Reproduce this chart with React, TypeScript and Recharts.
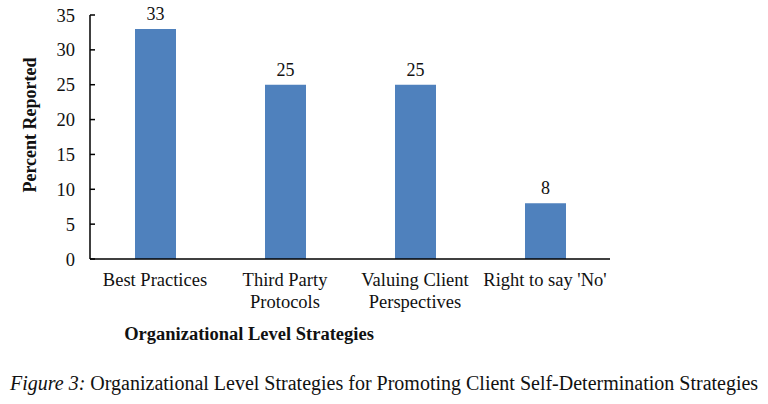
import React from 'react';
import { BarChart, Bar, XAxis, YAxis, LabelList, Label } from 'recharts';

const categories = ['Best Practices', 'Third Party Protocols', 'Valuing Client Perspectives', "Right to say 'No'"];
const percents = [33, 25, 25, 8];
const tickLines = [['Best Practices'], ['Third Party', 'Protocols'], ['Valuing Client', 'Perspectives'], ["Right to say 'No'"]];
const yTicks = [0, 5, 10, 15, 20, 25, 30, 35];

const data = categories.map((name, i) => ({ name, value: percents[i] }));

const FONT = '"Liberation Serif", "Times New Roman", serif';

const CategoryTick = (props: any) => {
  const { x, y, index } = props;
  const lines = tickLines[index] || [];
  return (
    <text x={x} y={y} textAnchor="middle" fontFamily={FONT} fontSize={18.5} fill="#111">
      {lines.map((l, i) => (
        <tspan key={i} x={x} dy={i === 0 ? 27 : 22}>{l}</tspan>
      ))}
    </text>
  );
};

const App: React.FC = () => {
  return (
    <div style={{ position: 'absolute', left: 0, top: 0, width: 768, height: 404, background: '#fff', fontFamily: FONT }}>
      <BarChart
        width={768}
        height={345}
        data={data}
        margin={{ top: 15, right: 158, left: 30, bottom: 0 }}
      >
        <XAxis
          dataKey="name"
          height={86}
          interval={0}
          tickLine={false}
          tickSize={0}
          tickMargin={0}
          axisLine={{ stroke: '#000', strokeWidth: 1.5 }}
          tick={<CategoryTick />}
        >
          <Label
            value="Organizational Level Strategies"
            position="insideBottom"
            offset={5}
            dx={-101}
            style={{ fontFamily: FONT, fontSize: 18.5, fontWeight: 'bold', fill: '#111' }}
          />
        </XAxis>
        <YAxis
          width={60}
          domain={[0, 35]}
          ticks={yTicks}
          interval={0}
          tickSize={-5}
          tickMargin={20}
          axisLine={{ stroke: '#000', strokeWidth: 1.5 }}
          tickLine={{ stroke: '#000', strokeWidth: 1.5 }}
          tick={{ fontFamily: FONT, fontSize: 18.5, fill: '#111' }}
        >
          <Label
            value="Percent Reported"
            angle={-90}
            position="center"
            dx={-30}
            dy={-12}
            style={{ fontFamily: FONT, fontSize: 18, fontWeight: 'bold', fill: '#111', textAnchor: 'middle' }}
          />
        </YAxis>
        <Bar dataKey="value" fill="#4f81bd" barSize={41} isAnimationActive={false}>
          <LabelList
            dataKey="value"
            position="top"
            offset={9}
            fontSize={18}
            fontFamily={FONT}
            fill="#111"
          />
        </Bar>
      </BarChart>
      <div style={{ position: 'absolute', left: 10, top: 372, fontSize: 20, color: '#111', whiteSpace: 'nowrap' }}>
        <i>Figure 3:</i> Organizational Level Strategies for Promoting Client Self-Determination Strategies
      </div>
    </div>
  );
};

export default App;
